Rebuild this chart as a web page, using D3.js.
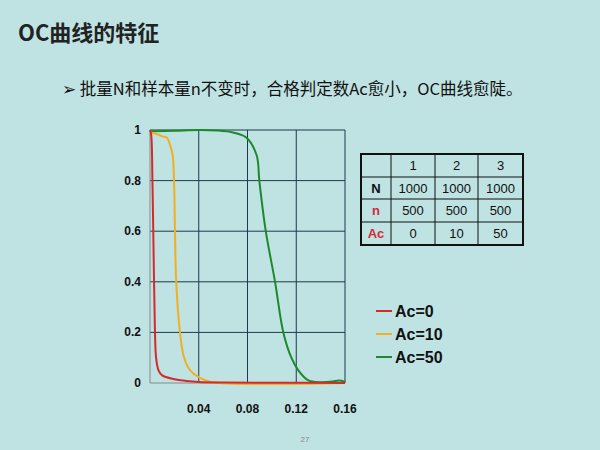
<!DOCTYPE html>
<html><head><meta charset="utf-8">
<script src="https://cdn.jsdelivr.net/npm/d3@7"></script>
<style>body{margin:0;background:#bfe2e2;}svg{font-family:"Liberation Sans",Arial,sans-serif;}</style>
</head><body>
<script>
/*--- data ---*/
let pRed = [0,0.001,0.002,0.003,0.004,0.005,0.007,0.01,0.02,0.03,0.04,0.06,0.1,0.16];
let paRed = [1,0.98,0.8,0.5,0.22,0.1,0.05,0.03,0.015,0.008,0.004,0.002,0.001,0];
let pYel = [0,0.005,0.01,0.0137,0.0165,0.0186,0.0197,0.0205,0.0215,0.0246,0.028,0.033,0.041,0.05,0.16];
let paYel = [0.99,0.985,0.975,0.97,0.94,0.9,0.8,0.6,0.4,0.2,0.1,0.05,0.02,0.004,0];
let pGrn = [0,0.02,0.04,0.055,0.068,0.079,0.0875,0.0897,0.095,0.1026,0.1094,0.116,0.1217,0.13,0.14,0.15,0.155,0.16];
let paGrn = [0.995,0.997,1,0.998,0.99,0.97,0.9,0.8,0.6,0.4,0.2,0.1,0.05,0.01,0.003,0.006,0.01,0.005];
let xTicks = [0.04,0.08,0.12,0.16];
let yTicks = [0,0.2,0.4,0.6,0.8,1];
let tableHead = ["","1","2","3"];
let tableRows = [["N","1000","1000","1000"],["n","500","500","500"],["Ac","0","10","50"]];
let seriesNames = ["Ac=0","Ac=10","Ac=50"];
let colors = ["#d42a2a","#f0b020","#1c8a2c"];

let svg = d3.select("body").append("svg").attr("width",600).attr("height",450);

svg.append("text").attr("x",18).attr("y",41).attr("font-size",22).attr("font-weight","bold")
  .attr("fill","#222").attr("font-family","'Noto Sans CJK SC'").text("OC曲线的特征");
svg.append("text").attr("x",62).attr("y",95).attr("font-size",16.5).attr("fill","#111")
  .attr("font-family","'Noto Sans CJK SC'").text("➢ 批量N和样本量n不变时，合格判定数Ac愈小，OC曲线愈陡。");
svg.append("text").attr("x",305).attr("y",442).attr("font-size",8).attr("fill","#888").attr("text-anchor","middle").text("27");

/*--- scales ---*/
let X = d3.scaleLinear().domain([0,0.16]).range([150,345]);
let Y = d3.scaleLinear().domain([0,1]).range([383,130]);

let g = svg.append("g");
g.selectAll(".hg").data(yTicks.slice(1)).join("line")
  .attr("x1",X(0)).attr("x2",X(0.16)).attr("y1",d=>Y(d)).attr("y2",d=>Y(d))
  .attr("stroke","#1d3a48").attr("stroke-width",1);
g.selectAll(".vg").data(xTicks).join("line")
  .attr("y1",Y(0)).attr("y2",Y(1)).attr("x1",d=>X(d)).attr("x2",d=>X(d))
  .attr("stroke","#1d3a48").attr("stroke-width",1);
g.append("line").attr("x1",X(0)).attr("x2",X(0)).attr("y1",Y(0)).attr("y2",Y(1)).attr("stroke","#888");
g.append("line").attr("x1",X(0)).attr("x2",X(0.16)).attr("y1",Y(0)).attr("y2",Y(0)).attr("stroke","#888");

g.selectAll(".yl").data(yTicks).join("text")
  .attr("x",141).attr("y",d=>Y(d)+4).attr("text-anchor","end").attr("font-size",12).attr("font-weight","bold")
  .attr("fill","#111").text(d=>d);
g.selectAll(".xl").data(xTicks).join("text")
  .attr("x",d=>X(d)).attr("y",413).attr("text-anchor","middle").attr("font-size",12).attr("font-weight","bold")
  .attr("fill","#111").text(d=>d);

let linea = d3.line().x(d=>X(d[0])).y(d=>Y(d[1])).curve(d3.curveCatmullRom);
[[pGrn,paGrn,2],[pYel,paYel,1],[pRed,paRed,0]].forEach(function(s){
  g.append("path").datum(d3.zip(s[0],s[1])).attr("fill","none")
    .attr("stroke",colors[s[2]]).attr("stroke-width",2).attr("d",linea);
});

/*--- table ---*/
let colX = [361,391,435,478,523];
let rowY = [154,177,199,222,245];
let t = svg.append("g");
t.append("rect").attr("x",colX[0]).attr("y",rowY[0]).attr("width",colX[4]-colX[0]).attr("height",rowY[4]-rowY[0])
  .attr("fill","none").attr("stroke","#111").attr("stroke-width",2);
colX.slice(1,4).forEach(x=>t.append("line").attr("x1",x).attr("x2",x).attr("y1",rowY[0]).attr("y2",rowY[4]).attr("stroke","#111"));
rowY.slice(1,4).forEach(y=>t.append("line").attr("y1",y).attr("y2",y).attr("x1",colX[0]).attr("x2",colX[4]).attr("stroke","#111"));
[tableHead].concat(tableRows).forEach(function(row,ri){
  row.forEach(function(c,ci){
    t.append("text").attr("x",(colX[ci]+colX[ci+1])/2).attr("y",(rowY[ri]+rowY[ri+1])/2+4.5)
      .attr("text-anchor","middle").attr("font-size",13).attr("font-weight",ci==0?"bold":"normal")
      .attr("fill",(ci==0&&ri>=2)?"#d42a3a":"#111").text(c);
  });
});

/*--- legend ---*/
seriesNames.forEach(function(n,i){
  let y = 311+i*23;
  svg.append("line").attr("x1",376).attr("x2",392).attr("y1",y).attr("y2",y).attr("stroke",colors[i]).attr("stroke-width",2);
  svg.append("text").attr("x",395).attr("y",y+6).attr("font-size",16).attr("font-weight","bold").attr("fill","#111").text(n);
});
</script>
</body></html>
